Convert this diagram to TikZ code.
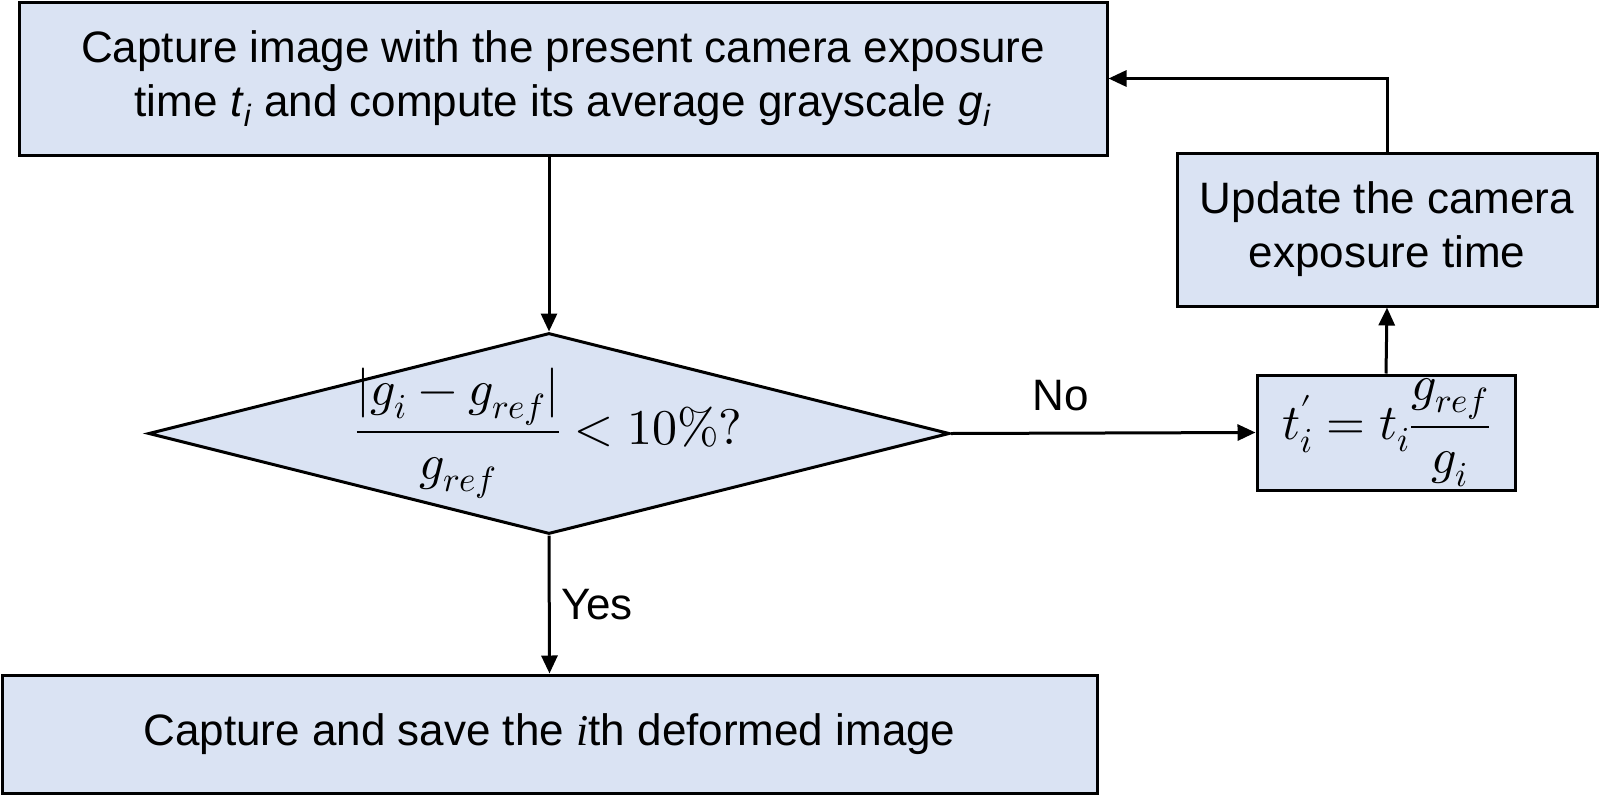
\documentclass[tikz,border=0pt]{standalone}
\usepackage{fontspec}
\usepackage{unicode-math}
\setmainfont{Liberation Sans}
\setmathfont{Latin Modern Math}
\newfontfamily\seriffam{Liberation Serif}
\usetikzlibrary{arrows.meta,shapes.geometric}
\definecolor{boxblue}{HTML}{DAE3F3}
\begin{document}
\begin{tikzpicture}[x=1pt,y=-1pt,
  box/.style={draw=black, line width=3pt, fill=boxblue, inner sep=0pt, align=center,
    font=\fontsize{44}{54}\selectfont},
  mathbox/.style={box, font=\fontsize{50}{60}\selectfont},
  mathtext/.style={inner sep=0pt, font=\fontsize{50}{60}\selectfont},
  lbl/.style={inner sep=0pt, font=\fontsize{44}{54}\selectfont},
  conn/.style={line width=3pt, -{Triangle[length=18pt,width=16pt]}}]
\useasboundingbox (0,0) rectangle (1600,795);
\node[box, minimum width=1088pt, minimum height=153pt] (top) at (563,78.5)
  {Capture image with the present camera exposure\\time \textit{t}\textsubscript{\textit{i}} and compute its average grayscale \textit{g}\textsubscript{\textit{i}}};
\node[box, minimum width=420pt, minimum height=153pt] (upd) at (1387,229.5)
  {Update the camera\\exposure time};
\node[box, shape=diamond, aspect=4, minimum width=801pt, minimum height=201pt] (dec) at (549,433.5) {};
\node[mathtext] (dectext) at (dec.center)
  {$\displaystyle\frac{|g_i-g_{ref}|}{g_{ref}}<10\%?$};
\node[mathbox, minimum width=258pt, minimum height=115pt] (upt) at (1386,432.5)
  {$\displaystyle t^{\prime}_{i}=t_i\frac{g_{ref}}{g_i}$};
\node[box, minimum width=1095pt, minimum height=118pt] (save) at (549.5,734)
  {Capture and save the {\seriffam\itshape i}th deformed image};
\draw[conn] (dec.north |- top.south) -- (dec.north);
\draw[conn] (dec.east) -- (upt.west);
\draw[conn] (upt.north) -- (upd.south);
\draw[conn] (upd.north) |- (top.east);
\draw[conn] (dec.south) -- (save.north);
\node[lbl] (no) at (1061,396) {No};
\node[lbl] (yes) at (597,605) {Yes};
\end{tikzpicture}
\end{document}
